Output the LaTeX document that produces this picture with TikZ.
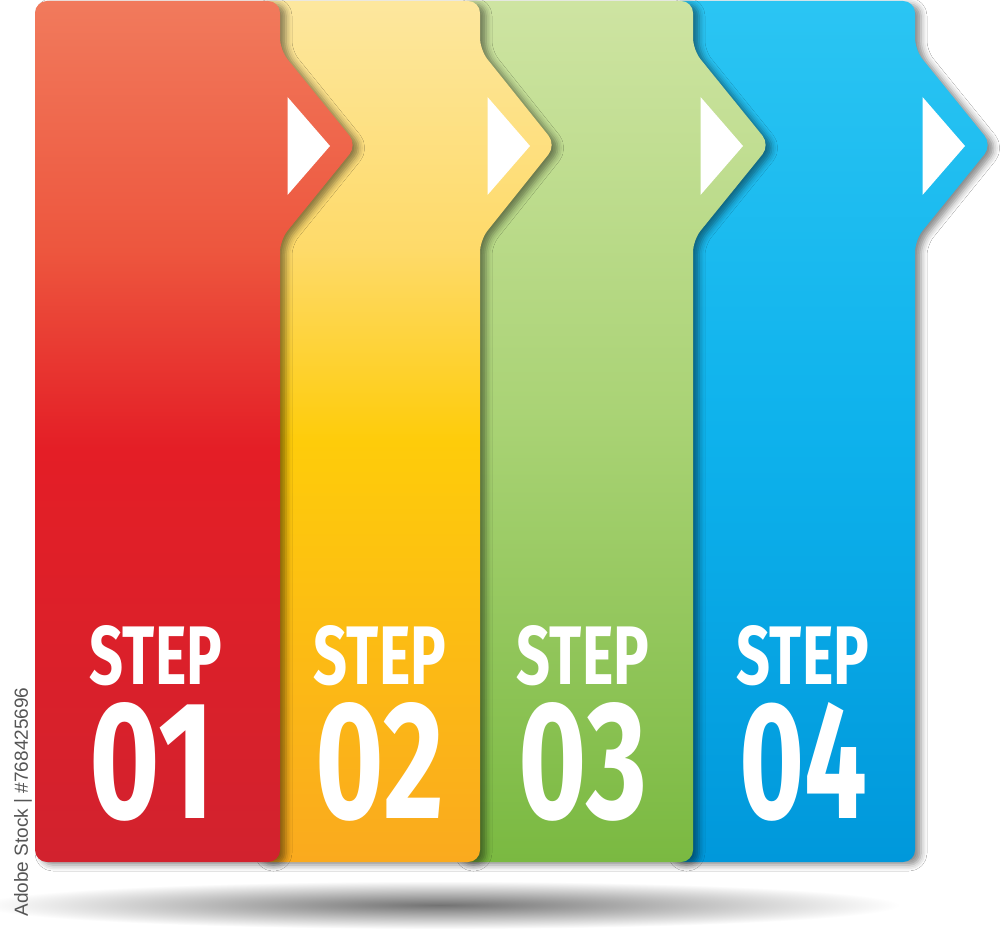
\documentclass[tikz,border=0pt]{standalone}
\usepackage{fontspec}
\setmainfont{Fira Sans}
\newfontfamily\wmfont{Liberation Sans}
\usetikzlibrary{shadows.blur}
\definecolor{rT}{RGB}{241,122,92}
\definecolor{rU}{RGB}{237,86,62}
\definecolor{rM}{RGB}{228,30,38}
\definecolor{rB}{RGB}{210,34,46}
\definecolor{yT}{RGB}{253,231,158}
\definecolor{yU}{RGB}{254,218,105}
\definecolor{yM}{RGB}{254,204,10}
\definecolor{yB}{RGB}{250,170,30}
\definecolor{gT}{RGB}{206,228,162}
\definecolor{gM}{RGB}{168,210,115}
\definecolor{gB}{RGB}{122,185,65}
\definecolor{bT}{RGB}{43,197,243}
\definecolor{bM}{RGB}{14,178,236}
\definecolor{bB}{RGB}{0,152,219}
\definecolor{wmgray}{RGB}{85,85,85}
\pgfdeclareverticalshading{redsh}{100bp}{color(0bp)=(rB); color(25bp)=(rB); color(49bp)=(rM); color(60.5bp)=(rU); color(75bp)=(rT); color(100bp)=(rT)}
\pgfdeclareverticalshading{yelsh}{100bp}{color(0bp)=(yB); color(25bp)=(yB); color(49.5bp)=(yM); color(60.5bp)=(yU); color(75bp)=(yT); color(100bp)=(yT)}
\pgfdeclareverticalshading{grnsh}{100bp}{color(0bp)=(gB); color(25bp)=(gB); color(50bp)=(gM); color(75bp)=(gT); color(100bp)=(gT)}
\pgfdeclareverticalshading{blush}{100bp}{color(0bp)=(bB); color(25bp)=(bB); color(50bp)=(bM); color(75bp)=(bT); color(100bp)=(bT)}
\begin{document}
\begin{tikzpicture}[x=0.5pt,y=-0.5pt,
  panel/.style={blur shadow={shadow xshift=3pt, shadow yshift=-1.5pt, shadow blur radius=3pt, shadow opacity=45}, rounded corners=6pt},
  tri/.style={fill=white},
  steplbl/.style={text=white, anchor=base, inner sep=0pt},
]
\fill[white] (0,0) rectangle (1000,935);
\useasboundingbox (0,0) rectangle (1000,935);
% ground shadow
\shade[inner color=black!55, outer color=white] (440,905) ellipse [x radius=460, y radius=24];
% panels, back to front
\shade[panel, shading=blush] (668,862) -- (668,1) -- (915,1) -- (915,50) -- (992,145) -- (915,240) -- (915,862) -- cycle;
\fill[tri] (922.5,97) -- (922.5,195) -- (965,146) -- cycle;
\shade[panel, shading=grnsh] (455,862) -- (455,1) -- (693,1) -- (693,50) -- (770,145) -- (693,240) -- (693,862) -- cycle;
\fill[tri] (700.5,97) -- (700.5,195) -- (743,146) -- cycle;
\shade[panel, shading=yelsh] (255,862) -- (255,1) -- (480,1) -- (480,50) -- (556,145) -- (480,240) -- (480,862) -- cycle;
\fill[tri] (487.5,97) -- (487.5,195) -- (530,146) -- cycle;
\shade[panel, shading=redsh] (35,862) -- (35,1) -- (280,1) -- (280,50) -- (357,145) -- (280,240) -- (280,862) -- cycle;
\fill[tri] (287.5,97) -- (287.5,195) -- (330,146) -- cycle;
% labels
\node[steplbl] (s1) at (156,684) {\resizebox{66pt}{29.5pt}{\bfseries STEP}};
\node[steplbl] (n1) at (152,818) {\resizebox{62pt}{58pt}{\bfseries 01}};
\node[steplbl] (s2) at (380,684) {\resizebox{66pt}{29.5pt}{\bfseries STEP}};
\node[steplbl] (n2) at (380,818) {\resizebox{64pt}{58pt}{\bfseries 02}};
\node[steplbl] (s3) at (583,684) {\resizebox{66pt}{29.5pt}{\bfseries STEP}};
\node[steplbl] (n3) at (583,818) {\resizebox{64pt}{58pt}{\bfseries 03}};
\node[steplbl] (s4) at (803,684) {\resizebox{66pt}{29.5pt}{\bfseries STEP}};
\node[steplbl] (n4) at (803,818) {\resizebox{64pt}{58pt}{\bfseries 04}};
% vertical credit line
\node[rotate=90, text=wmgray, font=\wmfont\fontsize{9.5}{11}\selectfont, inner sep=0pt] (wm) at (23,802) {Adobe Stock | \#768425696};
\end{tikzpicture}
\end{document}
